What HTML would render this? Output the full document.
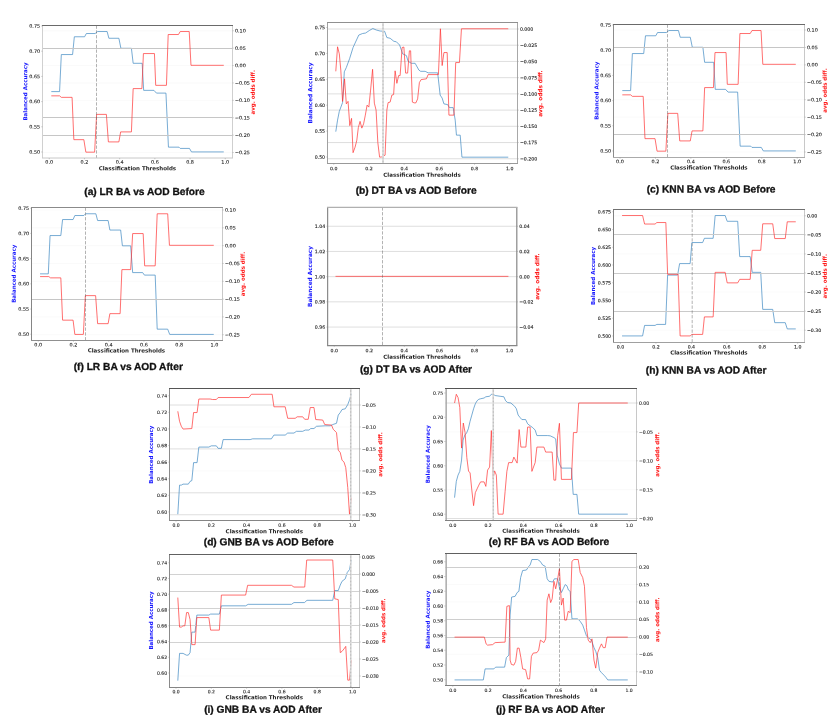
<!DOCTYPE html>
<html lang="en"><head><meta charset="utf-8"><title>BA vs AOD</title>
<style>html,body{margin:0;padding:0;background:#fff}svg{display:block}.t{font-family:"DejaVu Sans","Liberation Sans",sans-serif;font-size:4.7px;fill:#222;stroke:#222;stroke-width:0.1px}.l{font-family:"DejaVu Sans","Liberation Sans",sans-serif;font-weight:bold;font-size:5.5px}.c{font-family:"Liberation Sans",sans-serif;font-weight:bold;font-size:10.2px;fill:#111;stroke:#111;stroke-width:0.3px}text{text-rendering:geometricPrecision}</style></head><body>
<svg width="831" height="720" viewBox="0 0 831 720">
<rect width="831" height="720" fill="#fff"/>
<g id="chart-a">
<line x1="42.5" x2="232.5" y1="30.75" y2="30.75" stroke="#f4f4f4" stroke-width="0.5"/>
<line x1="42.5" x2="232.5" y1="65.55" y2="65.55" stroke="#f4f4f4" stroke-width="0.5"/>
<line x1="42.5" x2="232.5" y1="82.95" y2="82.95" stroke="#f4f4f4" stroke-width="0.5"/>
<line x1="42.5" x2="232.5" y1="100.35" y2="100.35" stroke="#f4f4f4" stroke-width="0.5"/>
<line x1="42.5" x2="232.5" y1="152.55" y2="152.55" stroke="#f4f4f4" stroke-width="0.5"/>
<polyline points="51.31,91.60 59.57,91.60 61.32,54.55 72.59,54.55 74.34,36.78 84.60,36.78 86.35,33.53 95.11,33.53 97.62,31.53 107.13,31.53 108.88,38.28 118.89,38.28 120.90,48.30 131.41,48.30 133.16,63.31 142.17,63.31 143.67,90.35 153.94,90.35 156.44,93.10 165.95,93.10 168.45,147.16 178.97,147.16 180.22,148.42 189.48,148.42 191.48,151.92 223.77,151.92" fill="none" stroke="#3d88c2" stroke-width="0.7" stroke-linejoin="round"/>
<line x1="42.5" x2="232.5" y1="48.5" y2="48.5" stroke="#c6c6c6" stroke-width="1"/>
<line x1="42.5" x2="232.5" y1="117.5" y2="117.5" stroke="#c6c6c6" stroke-width="1"/>
<line x1="42.5" x2="232.5" y1="135.5" y2="135.5" stroke="#c6c6c6" stroke-width="1"/>
<polyline points="51.31,95.85 59.57,95.85 61.32,97.35 72.09,97.35 73.84,139.66 83.85,139.66 85.85,152.17 94.61,152.17 96.62,114.38 106.38,114.38 108.38,141.91 118.89,141.91 120.65,131.90 131.41,131.90 133.16,88.59 141.92,88.59 143.42,53.55 154.44,53.55 155.69,85.34 166.45,85.34 168.20,34.53 178.46,34.53 180.22,31.53 189.23,31.53 190.98,65.32 223.77,65.32" fill="none" stroke="#ff3232" stroke-width="0.7" stroke-linejoin="round"/>
<line x1="96.5" x2="96.5" y1="25.5" y2="158.0" stroke="#555" stroke-width="0.45" stroke-dasharray="3.3 1.5"/>
<line x1="42.5" x2="42.5" y1="25.5" y2="158.0" stroke="#d0d0d0" stroke-width="1"/>
<line x1="232.5" x2="232.5" y1="25.5" y2="158.0" stroke="#cfcfcf" stroke-width="1"/>
<line x1="42.0" x2="233.0" y1="158.0" y2="158.0" stroke="#c8c8c8" stroke-width="1"/>
<line x1="42.0" x2="233.0" y1="25.5" y2="25.5" stroke="#6a6a6a" stroke-width="1"/>
<line x1="49.25" x2="49.25" y1="158.0" y2="159.3" stroke="#888" stroke-width="0.4"/>
<text class="t" style="font-size:4.9px" transform="translate(49.25,163.70) rotate(0.04)" text-anchor="middle">0.0</text>
<line x1="84.45" x2="84.45" y1="158.0" y2="159.3" stroke="#888" stroke-width="0.4"/>
<text class="t" style="font-size:4.9px" transform="translate(84.45,163.70) rotate(0.04)" text-anchor="middle">0.2</text>
<line x1="119.65" x2="119.65" y1="158.0" y2="159.3" stroke="#888" stroke-width="0.4"/>
<text class="t" style="font-size:4.9px" transform="translate(119.65,163.70) rotate(0.04)" text-anchor="middle">0.4</text>
<line x1="154.85" x2="154.85" y1="158.0" y2="159.3" stroke="#888" stroke-width="0.4"/>
<text class="t" style="font-size:4.9px" transform="translate(154.85,163.70) rotate(0.04)" text-anchor="middle">0.6</text>
<line x1="190.05" x2="190.05" y1="158.0" y2="159.3" stroke="#888" stroke-width="0.4"/>
<text class="t" style="font-size:4.9px" transform="translate(190.05,163.70) rotate(0.04)" text-anchor="middle">0.8</text>
<line x1="225.25" x2="225.25" y1="158.0" y2="159.3" stroke="#888" stroke-width="0.4"/>
<text class="t" style="font-size:4.9px" transform="translate(225.25,163.70) rotate(0.04)" text-anchor="middle">1.0</text>
<line x1="41.2" x2="42.5" y1="26.00" y2="26.00" stroke="#888" stroke-width="0.4"/>
<text class="t" style="font-size:4.9px" transform="translate(40.10,27.75) rotate(0.04)" text-anchor="end">0.75</text>
<line x1="41.2" x2="42.5" y1="51.20" y2="51.20" stroke="#888" stroke-width="0.4"/>
<text class="t" style="font-size:4.9px" transform="translate(40.10,52.95) rotate(0.04)" text-anchor="end">0.70</text>
<line x1="41.2" x2="42.5" y1="76.40" y2="76.40" stroke="#888" stroke-width="0.4"/>
<text class="t" style="font-size:4.9px" transform="translate(40.10,78.15) rotate(0.04)" text-anchor="end">0.65</text>
<line x1="41.2" x2="42.5" y1="101.60" y2="101.60" stroke="#888" stroke-width="0.4"/>
<text class="t" style="font-size:4.9px" transform="translate(40.10,103.35) rotate(0.04)" text-anchor="end">0.60</text>
<line x1="41.2" x2="42.5" y1="126.80" y2="126.80" stroke="#888" stroke-width="0.4"/>
<text class="t" style="font-size:4.9px" transform="translate(40.10,128.55) rotate(0.04)" text-anchor="end">0.55</text>
<line x1="41.2" x2="42.5" y1="152.00" y2="152.00" stroke="#888" stroke-width="0.4"/>
<text class="t" style="font-size:4.9px" transform="translate(40.10,153.75) rotate(0.04)" text-anchor="end">0.50</text>
<line x1="232.5" x2="233.8" y1="30.75" y2="30.75" stroke="#888" stroke-width="0.4"/>
<text class="t" style="font-size:4.9px" transform="translate(234.90,32.50) rotate(0.04)">0.10</text>
<line x1="232.5" x2="233.8" y1="48.15" y2="48.15" stroke="#888" stroke-width="0.4"/>
<text class="t" style="font-size:4.9px" transform="translate(234.90,49.90) rotate(0.04)">0.05</text>
<line x1="232.5" x2="233.8" y1="65.55" y2="65.55" stroke="#888" stroke-width="0.4"/>
<text class="t" style="font-size:4.9px" transform="translate(234.90,67.30) rotate(0.04)">0.00</text>
<line x1="232.5" x2="233.8" y1="82.95" y2="82.95" stroke="#888" stroke-width="0.4"/>
<text class="t" style="font-size:4.9px" transform="translate(234.90,84.70) rotate(0.04)">−0.05</text>
<line x1="232.5" x2="233.8" y1="100.35" y2="100.35" stroke="#888" stroke-width="0.4"/>
<text class="t" style="font-size:4.9px" transform="translate(234.90,102.10) rotate(0.04)">−0.10</text>
<line x1="232.5" x2="233.8" y1="117.75" y2="117.75" stroke="#888" stroke-width="0.4"/>
<text class="t" style="font-size:4.9px" transform="translate(234.90,119.50) rotate(0.04)">−0.15</text>
<line x1="232.5" x2="233.8" y1="135.15" y2="135.15" stroke="#888" stroke-width="0.4"/>
<text class="t" style="font-size:4.9px" transform="translate(234.90,136.90) rotate(0.04)">−0.20</text>
<line x1="232.5" x2="233.8" y1="152.55" y2="152.55" stroke="#888" stroke-width="0.4"/>
<text class="t" style="font-size:4.9px" transform="translate(234.90,154.30) rotate(0.04)">−0.25</text>
<text class="l" transform="translate(137.4,170.25) rotate(0.04)" text-anchor="middle" fill="#222">Classification Thresholds</text>
<text class="l" transform="translate(27.3,91.5) rotate(-90.04)" text-anchor="middle" fill="#1616ff">Balanced Accuracy</text>
<text class="l" transform="translate(254.8,92.25) rotate(-90.04)" text-anchor="middle" fill="#ff1a1a">avg. odds diff.</text>
<text class="c" transform="translate(144.5,195) rotate(0.04)" text-anchor="middle">(a) LR BA vs AOD Before</text>
</g>
<g id="chart-c">
<line x1="613.5" x2="804.5" y1="30.00" y2="30.00" stroke="#f4f4f4" stroke-width="0.5"/>
<line x1="613.5" x2="804.5" y1="64.86" y2="64.86" stroke="#f4f4f4" stroke-width="0.5"/>
<line x1="613.5" x2="804.5" y1="82.29" y2="82.29" stroke="#f4f4f4" stroke-width="0.5"/>
<line x1="613.5" x2="804.5" y1="99.72" y2="99.72" stroke="#f4f4f4" stroke-width="0.5"/>
<line x1="613.5" x2="804.5" y1="117.15" y2="117.15" stroke="#f4f4f4" stroke-width="0.5"/>
<line x1="613.5" x2="804.5" y1="152.01" y2="152.01" stroke="#f4f4f4" stroke-width="0.5"/>
<polyline points="622.30,90.60 630.61,90.60 632.37,53.55 643.71,53.55 645.47,35.78 655.79,35.78 657.56,32.53 666.37,32.53 668.89,30.52 678.45,30.52 680.22,37.28 690.29,37.28 692.30,47.29 702.88,47.29 704.64,62.31 713.71,62.31 715.22,89.35 725.54,89.35 728.06,92.10 737.63,92.10 740.15,146.16 750.72,146.16 751.98,147.42 761.30,147.42 763.31,150.92 795.79,150.92" fill="none" stroke="#3d88c2" stroke-width="0.7" stroke-linejoin="round"/>
<line x1="613.5" x2="804.5" y1="47.5" y2="47.5" stroke="#c6c6c6" stroke-width="1"/>
<line x1="613.5" x2="804.5" y1="134.5" y2="134.5" stroke="#c6c6c6" stroke-width="1"/>
<polyline points="622.30,94.85 630.61,94.85 632.37,96.35 643.20,96.35 644.97,138.65 655.04,138.65 657.05,151.17 665.86,151.17 667.88,113.37 677.70,113.37 679.71,140.91 690.29,140.91 692.05,130.90 702.88,130.90 704.64,87.59 713.46,87.59 714.97,52.55 726.05,52.55 727.30,84.34 738.13,84.34 739.89,33.53 750.22,33.53 751.98,30.52 761.05,30.52 762.81,64.32 795.79,64.32" fill="none" stroke="#ff3232" stroke-width="0.7" stroke-linejoin="round"/>
<line x1="667.5" x2="667.5" y1="24.5" y2="157.5" stroke="#555" stroke-width="0.45" stroke-dasharray="3.3 1.5"/>
<line x1="613.5" x2="613.5" y1="24.5" y2="157.5" stroke="#8c8c8c" stroke-width="1"/>
<line x1="804.5" x2="804.5" y1="24.5" y2="157.5" stroke="#c8c8c8" stroke-width="1"/>
<line x1="613.0" x2="805.0" y1="157.5" y2="157.5" stroke="#aaa" stroke-width="1"/>
<line x1="613.0" x2="805.0" y1="24.5" y2="24.5" stroke="#6a6a6a" stroke-width="1"/>
<line x1="620.00" x2="620.00" y1="157.5" y2="158.8" stroke="#888" stroke-width="0.4"/>
<text class="t" style="font-size:4.9px" transform="translate(620.00,163.20) rotate(0.04)" text-anchor="middle">0.0</text>
<line x1="655.44" x2="655.44" y1="157.5" y2="158.8" stroke="#888" stroke-width="0.4"/>
<text class="t" style="font-size:4.9px" transform="translate(655.44,163.20) rotate(0.04)" text-anchor="middle">0.2</text>
<line x1="690.88" x2="690.88" y1="157.5" y2="158.8" stroke="#888" stroke-width="0.4"/>
<text class="t" style="font-size:4.9px" transform="translate(690.88,163.20) rotate(0.04)" text-anchor="middle">0.4</text>
<line x1="726.32" x2="726.32" y1="157.5" y2="158.8" stroke="#888" stroke-width="0.4"/>
<text class="t" style="font-size:4.9px" transform="translate(726.32,163.20) rotate(0.04)" text-anchor="middle">0.6</text>
<line x1="761.76" x2="761.76" y1="157.5" y2="158.8" stroke="#888" stroke-width="0.4"/>
<text class="t" style="font-size:4.9px" transform="translate(761.76,163.20) rotate(0.04)" text-anchor="middle">0.8</text>
<line x1="797.20" x2="797.20" y1="157.5" y2="158.8" stroke="#888" stroke-width="0.4"/>
<text class="t" style="font-size:4.9px" transform="translate(797.20,163.20) rotate(0.04)" text-anchor="middle">1.0</text>
<line x1="612.2" x2="613.5" y1="25.00" y2="25.00" stroke="#888" stroke-width="0.4"/>
<text class="t" style="font-size:4.9px" transform="translate(611.10,26.75) rotate(0.04)" text-anchor="end">0.75</text>
<line x1="612.2" x2="613.5" y1="50.20" y2="50.20" stroke="#888" stroke-width="0.4"/>
<text class="t" style="font-size:4.9px" transform="translate(611.10,51.95) rotate(0.04)" text-anchor="end">0.70</text>
<line x1="612.2" x2="613.5" y1="75.40" y2="75.40" stroke="#888" stroke-width="0.4"/>
<text class="t" style="font-size:4.9px" transform="translate(611.10,77.15) rotate(0.04)" text-anchor="end">0.65</text>
<line x1="612.2" x2="613.5" y1="100.60" y2="100.60" stroke="#888" stroke-width="0.4"/>
<text class="t" style="font-size:4.9px" transform="translate(611.10,102.35) rotate(0.04)" text-anchor="end">0.60</text>
<line x1="612.2" x2="613.5" y1="125.80" y2="125.80" stroke="#888" stroke-width="0.4"/>
<text class="t" style="font-size:4.9px" transform="translate(611.10,127.55) rotate(0.04)" text-anchor="end">0.55</text>
<line x1="612.2" x2="613.5" y1="151.00" y2="151.00" stroke="#888" stroke-width="0.4"/>
<text class="t" style="font-size:4.9px" transform="translate(611.10,152.75) rotate(0.04)" text-anchor="end">0.50</text>
<line x1="804.5" x2="805.8" y1="30.00" y2="30.00" stroke="#888" stroke-width="0.4"/>
<text class="t" style="font-size:4.9px" transform="translate(806.90,31.75) rotate(0.04)">0.10</text>
<line x1="804.5" x2="805.8" y1="47.43" y2="47.43" stroke="#888" stroke-width="0.4"/>
<text class="t" style="font-size:4.9px" transform="translate(806.90,49.18) rotate(0.04)">0.05</text>
<line x1="804.5" x2="805.8" y1="64.86" y2="64.86" stroke="#888" stroke-width="0.4"/>
<text class="t" style="font-size:4.9px" transform="translate(806.90,66.61) rotate(0.04)">0.00</text>
<line x1="804.5" x2="805.8" y1="82.29" y2="82.29" stroke="#888" stroke-width="0.4"/>
<text class="t" style="font-size:4.9px" transform="translate(806.90,84.04) rotate(0.04)">−0.05</text>
<line x1="804.5" x2="805.8" y1="99.72" y2="99.72" stroke="#888" stroke-width="0.4"/>
<text class="t" style="font-size:4.9px" transform="translate(806.90,101.47) rotate(0.04)">−0.10</text>
<line x1="804.5" x2="805.8" y1="117.15" y2="117.15" stroke="#888" stroke-width="0.4"/>
<text class="t" style="font-size:4.9px" transform="translate(806.90,118.90) rotate(0.04)">−0.15</text>
<line x1="804.5" x2="805.8" y1="134.58" y2="134.58" stroke="#888" stroke-width="0.4"/>
<text class="t" style="font-size:4.9px" transform="translate(806.90,136.33) rotate(0.04)">−0.20</text>
<line x1="804.5" x2="805.8" y1="152.01" y2="152.01" stroke="#888" stroke-width="0.4"/>
<text class="t" style="font-size:4.9px" transform="translate(806.90,153.76) rotate(0.04)">−0.25</text>
<text class="l" transform="translate(708.9,169.5) rotate(0.04)" text-anchor="middle" fill="#222">Classification Thresholds</text>
<text class="l" transform="translate(598.6,90.75) rotate(-90.04)" text-anchor="middle" fill="#1616ff">Balanced Accuracy</text>
<text class="l" transform="translate(826.8,90.5) rotate(-90.04)" text-anchor="middle" fill="#ff1a1a">avg. odds diff.</text>
<text class="c" transform="translate(711.1,192.5) rotate(0.04)" text-anchor="middle">(c) KNN BA vs AOD Before</text>
</g>
<g id="chart-b">
<line x1="327.5" x2="517.5" y1="29.00" y2="29.00" stroke="#d6d6d6" stroke-width="0.8"/>
<line x1="327.5" x2="517.5" y1="45.22" y2="45.22" stroke="#d6d6d6" stroke-width="0.8"/>
<line x1="327.5" x2="517.5" y1="61.44" y2="61.44" stroke="#d6d6d6" stroke-width="0.8"/>
<line x1="327.5" x2="517.5" y1="77.66" y2="77.66" stroke="#d6d6d6" stroke-width="0.8"/>
<line x1="327.5" x2="517.5" y1="93.88" y2="93.88" stroke="#d6d6d6" stroke-width="0.8"/>
<line x1="327.5" x2="517.5" y1="110.10" y2="110.10" stroke="#d6d6d6" stroke-width="0.8"/>
<line x1="327.5" x2="517.5" y1="126.32" y2="126.32" stroke="#d6d6d6" stroke-width="0.8"/>
<line x1="327.5" x2="517.5" y1="142.54" y2="142.54" stroke="#d6d6d6" stroke-width="0.8"/>
<line x1="327.5" x2="517.5" y1="158.76" y2="158.76" stroke="#d6d6d6" stroke-width="0.8"/>
<polyline points="335.79,131.65 337.55,120.13 339.30,111.37 342.55,102.61 344.30,71.82 346.31,67.57 349.56,58.81 353.06,47.55 355.57,42.04 358.82,35.03 362.58,33.53 365.58,33.03 369.33,30.52 372.84,28.52 376.34,30.02 380.10,31.03 384.60,31.28 386.85,37.53 390.11,38.28 393.86,41.29 396.37,41.79 399.62,45.04 402.62,53.80 406.38,55.55 408.13,61.31 411.38,63.31 415.14,63.31 418.89,70.07 420.65,71.32 425.15,71.32 428.15,72.83 437.67,72.83 440.17,95.10 442.17,98.11 443.92,103.86 447.68,104.61 449.43,107.62 453.18,107.62 455.19,120.13 456.44,135.15 460.19,135.15 461.94,157.18 508.25,157.18" fill="none" stroke="#3d88c2" stroke-width="0.7" stroke-linejoin="round"/>
<polyline points="335.79,71.32 337.55,46.79 339.30,53.80 340.80,70.07 342.55,101.36 344.55,78.83 346.31,103.86 348.06,101.36 349.81,125.64 351.56,118.38 353.06,152.67 355.07,147.16 356.82,140.16 358.32,127.64 360.07,121.38 361.82,128.14 363.58,123.89 365.33,115.13 367.08,105.11 368.83,107.12 370.58,90.10 372.59,69.32 374.34,103.11 376.09,110.12 377.84,142.66 379.60,157.18 381.60,156.93 385.10,155.17 386.85,110.12 388.11,102.61 390.11,102.11 391.86,95.10 393.61,94.60 395.11,70.82 396.87,83.34 398.62,75.58 400.12,75.58 402.12,47.55 403.87,47.04 405.63,73.08 407.63,73.08 409.38,50.80 410.63,50.80 412.39,102.11 414.14,102.86 415.89,102.86 417.64,98.86 419.39,82.59 421.15,79.58 426.40,78.83 428.15,74.58 438.42,74.58 440.42,28.77 442.17,65.57 443.92,52.55 447.18,52.55 448.93,115.13 453.94,115.13 455.69,62.56 459.44,62.56 461.44,28.77 508.25,28.77" fill="none" stroke="#ff3232" stroke-width="0.7" stroke-linejoin="round"/>
<line x1="383.0" x2="383.0" y1="22.5" y2="163.5" stroke="#f0f0f0" stroke-width="1.8"/>
<line x1="383.0" x2="383.0" y1="22.5" y2="163.5" stroke="#8e8e8e" stroke-width="0.9" stroke-dasharray="0.8 0.6"/>
<line x1="327.5" x2="327.5" y1="22.5" y2="163.5" stroke="#a0a0a0" stroke-width="1"/>
<line x1="517.5" x2="517.5" y1="22.5" y2="163.5" stroke="#a8a8a8" stroke-width="1"/>
<line x1="327.0" x2="518.0" y1="163.5" y2="163.5" stroke="#999" stroke-width="1"/>
<line x1="327.0" x2="518.0" y1="22.5" y2="22.5" stroke="#909090" stroke-width="1"/>
<line x1="333.75" x2="333.75" y1="163.5" y2="164.8" stroke="#888" stroke-width="0.4"/>
<text class="t" transform="translate(333.75,170.20) rotate(0.04)" text-anchor="middle">0.0</text>
<line x1="368.95" x2="368.95" y1="163.5" y2="164.8" stroke="#888" stroke-width="0.4"/>
<text class="t" transform="translate(368.95,170.20) rotate(0.04)" text-anchor="middle">0.2</text>
<line x1="404.15" x2="404.15" y1="163.5" y2="164.8" stroke="#888" stroke-width="0.4"/>
<text class="t" transform="translate(404.15,170.20) rotate(0.04)" text-anchor="middle">0.4</text>
<line x1="439.35" x2="439.35" y1="163.5" y2="164.8" stroke="#888" stroke-width="0.4"/>
<text class="t" transform="translate(439.35,170.20) rotate(0.04)" text-anchor="middle">0.6</text>
<line x1="474.55" x2="474.55" y1="163.5" y2="164.8" stroke="#888" stroke-width="0.4"/>
<text class="t" transform="translate(474.55,170.20) rotate(0.04)" text-anchor="middle">0.8</text>
<line x1="509.75" x2="509.75" y1="163.5" y2="164.8" stroke="#888" stroke-width="0.4"/>
<text class="t" transform="translate(509.75,170.20) rotate(0.04)" text-anchor="middle">1.0</text>
<line x1="326.2" x2="327.5" y1="27.50" y2="27.50" stroke="#888" stroke-width="0.4"/>
<text class="t" transform="translate(325.10,29.25) rotate(0.04)" text-anchor="end">0.75</text>
<line x1="326.2" x2="327.5" y1="53.40" y2="53.40" stroke="#888" stroke-width="0.4"/>
<text class="t" transform="translate(325.10,55.15) rotate(0.04)" text-anchor="end">0.70</text>
<line x1="326.2" x2="327.5" y1="79.30" y2="79.30" stroke="#888" stroke-width="0.4"/>
<text class="t" transform="translate(325.10,81.05) rotate(0.04)" text-anchor="end">0.65</text>
<line x1="326.2" x2="327.5" y1="105.20" y2="105.20" stroke="#888" stroke-width="0.4"/>
<text class="t" transform="translate(325.10,106.95) rotate(0.04)" text-anchor="end">0.60</text>
<line x1="326.2" x2="327.5" y1="131.10" y2="131.10" stroke="#888" stroke-width="0.4"/>
<text class="t" transform="translate(325.10,132.85) rotate(0.04)" text-anchor="end">0.55</text>
<line x1="326.2" x2="327.5" y1="157.00" y2="157.00" stroke="#888" stroke-width="0.4"/>
<text class="t" transform="translate(325.10,158.75) rotate(0.04)" text-anchor="end">0.50</text>
<line x1="517.5" x2="518.8" y1="29.00" y2="29.00" stroke="#888" stroke-width="0.4"/>
<text class="t" transform="translate(519.90,30.75) rotate(0.04)">0.000</text>
<line x1="517.5" x2="518.8" y1="45.22" y2="45.22" stroke="#888" stroke-width="0.4"/>
<text class="t" transform="translate(519.90,46.97) rotate(0.04)">−0.025</text>
<line x1="517.5" x2="518.8" y1="61.44" y2="61.44" stroke="#888" stroke-width="0.4"/>
<text class="t" transform="translate(519.90,63.19) rotate(0.04)">−0.050</text>
<line x1="517.5" x2="518.8" y1="77.66" y2="77.66" stroke="#888" stroke-width="0.4"/>
<text class="t" transform="translate(519.90,79.41) rotate(0.04)">−0.075</text>
<line x1="517.5" x2="518.8" y1="93.88" y2="93.88" stroke="#888" stroke-width="0.4"/>
<text class="t" transform="translate(519.90,95.63) rotate(0.04)">−0.100</text>
<line x1="517.5" x2="518.8" y1="110.10" y2="110.10" stroke="#888" stroke-width="0.4"/>
<text class="t" transform="translate(519.90,111.85) rotate(0.04)">−0.125</text>
<line x1="517.5" x2="518.8" y1="126.32" y2="126.32" stroke="#888" stroke-width="0.4"/>
<text class="t" transform="translate(519.90,128.07) rotate(0.04)">−0.150</text>
<line x1="517.5" x2="518.8" y1="142.54" y2="142.54" stroke="#888" stroke-width="0.4"/>
<text class="t" transform="translate(519.90,144.29) rotate(0.04)">−0.175</text>
<line x1="517.5" x2="518.8" y1="158.76" y2="158.76" stroke="#888" stroke-width="0.4"/>
<text class="t" transform="translate(519.90,160.51) rotate(0.04)">−0.200</text>
<text class="l" transform="translate(422,176.75) rotate(0.04)" text-anchor="middle" fill="#222">Classification Thresholds</text>
<text class="l" style="font-size:5.78px" transform="translate(312.2,93) rotate(-90.04)" text-anchor="middle" fill="#1616ff">Balanced Accuracy</text>
<text class="l" style="font-size:5.78px" transform="translate(542.3,93.5) rotate(-90.04)" text-anchor="middle" fill="#ff1a1a">avg. odds diff.</text>
<text class="c" transform="translate(416.1,193.7) rotate(0.04)" text-anchor="middle">(b) DT BA vs AOD Before</text>
</g>
<g id="chart-f">
<line x1="31.5" x2="222.5" y1="210.00" y2="210.00" stroke="#f4f4f4" stroke-width="0.5"/>
<line x1="31.5" x2="222.5" y1="227.82" y2="227.82" stroke="#f4f4f4" stroke-width="0.5"/>
<line x1="31.5" x2="222.5" y1="245.64" y2="245.64" stroke="#f4f4f4" stroke-width="0.5"/>
<line x1="31.5" x2="222.5" y1="263.46" y2="263.46" stroke="#f4f4f4" stroke-width="0.5"/>
<line x1="31.5" x2="222.5" y1="281.28" y2="281.28" stroke="#f4f4f4" stroke-width="0.5"/>
<line x1="31.5" x2="222.5" y1="316.92" y2="316.92" stroke="#f4f4f4" stroke-width="0.5"/>
<line x1="31.5" x2="222.5" y1="334.74" y2="334.74" stroke="#f4f4f4" stroke-width="0.5"/>
<polyline points="40.05,273.85 48.31,273.85 50.06,235.55 60.82,235.55 62.58,219.54 73.09,219.54 74.84,215.53 83.85,215.53 85.60,213.78 95.87,213.78 97.62,220.54 108.13,220.54 109.88,230.05 120.65,230.05 122.40,245.82 130.66,245.82 132.66,272.60 142.67,272.60 144.42,275.10 155.19,275.10 157.19,329.17 167.70,329.17 169.70,334.42 213.76,334.42" fill="none" stroke="#3d88c2" stroke-width="0.7" stroke-linejoin="round"/>
<line x1="31.5" x2="222.5" y1="299.5" y2="299.5" stroke="#c6c6c6" stroke-width="1"/>
<polyline points="40.05,276.60 48.81,276.60 50.56,277.86 60.82,277.86 62.58,320.16 73.09,320.16 74.84,334.42 83.35,334.42 85.35,295.63 95.61,295.63 97.62,323.66 108.13,323.66 109.88,313.65 120.14,313.65 121.90,269.60 130.66,269.60 132.66,233.55 143.17,233.55 144.67,265.84 155.19,265.84 157.19,213.78 167.70,213.78 169.45,245.32 213.76,245.32" fill="none" stroke="#ff3232" stroke-width="0.7" stroke-linejoin="round"/>
<line x1="85.5" x2="85.5" y1="207.5" y2="340.5" stroke="#555" stroke-width="0.45" stroke-dasharray="3.3 1.5"/>
<line x1="31.5" x2="31.5" y1="207.5" y2="340.5" stroke="#858585" stroke-width="1"/>
<line x1="222.5" x2="222.5" y1="207.5" y2="340.5" stroke="#c8c8c8" stroke-width="1"/>
<line x1="31.0" x2="223.0" y1="340.5" y2="340.5" stroke="#909090" stroke-width="1"/>
<line x1="31.0" x2="223.0" y1="207.5" y2="207.5" stroke="#8a8a8a" stroke-width="1"/>
<line x1="38.25" x2="38.25" y1="340.5" y2="341.8" stroke="#888" stroke-width="0.4"/>
<text class="t" style="font-size:4.9px" transform="translate(38.25,346.50) rotate(0.04)" text-anchor="middle">0.0</text>
<line x1="73.49" x2="73.49" y1="340.5" y2="341.8" stroke="#888" stroke-width="0.4"/>
<text class="t" style="font-size:4.9px" transform="translate(73.49,346.50) rotate(0.04)" text-anchor="middle">0.2</text>
<line x1="108.73" x2="108.73" y1="340.5" y2="341.8" stroke="#888" stroke-width="0.4"/>
<text class="t" style="font-size:4.9px" transform="translate(108.73,346.50) rotate(0.04)" text-anchor="middle">0.4</text>
<line x1="143.97" x2="143.97" y1="340.5" y2="341.8" stroke="#888" stroke-width="0.4"/>
<text class="t" style="font-size:4.9px" transform="translate(143.97,346.50) rotate(0.04)" text-anchor="middle">0.6</text>
<line x1="179.21" x2="179.21" y1="340.5" y2="341.8" stroke="#888" stroke-width="0.4"/>
<text class="t" style="font-size:4.9px" transform="translate(179.21,346.50) rotate(0.04)" text-anchor="middle">0.8</text>
<line x1="214.45" x2="214.45" y1="340.5" y2="341.8" stroke="#888" stroke-width="0.4"/>
<text class="t" style="font-size:4.9px" transform="translate(214.45,346.50) rotate(0.04)" text-anchor="middle">1.0</text>
<line x1="30.2" x2="31.5" y1="208.25" y2="208.25" stroke="#888" stroke-width="0.4"/>
<text class="t" style="font-size:4.9px" transform="translate(29.10,210.00) rotate(0.04)" text-anchor="end">0.75</text>
<line x1="30.2" x2="31.5" y1="233.45" y2="233.45" stroke="#888" stroke-width="0.4"/>
<text class="t" style="font-size:4.9px" transform="translate(29.10,235.20) rotate(0.04)" text-anchor="end">0.70</text>
<line x1="30.2" x2="31.5" y1="258.65" y2="258.65" stroke="#888" stroke-width="0.4"/>
<text class="t" style="font-size:4.9px" transform="translate(29.10,260.40) rotate(0.04)" text-anchor="end">0.65</text>
<line x1="30.2" x2="31.5" y1="283.85" y2="283.85" stroke="#888" stroke-width="0.4"/>
<text class="t" style="font-size:4.9px" transform="translate(29.10,285.60) rotate(0.04)" text-anchor="end">0.60</text>
<line x1="30.2" x2="31.5" y1="309.05" y2="309.05" stroke="#888" stroke-width="0.4"/>
<text class="t" style="font-size:4.9px" transform="translate(29.10,310.80) rotate(0.04)" text-anchor="end">0.55</text>
<line x1="30.2" x2="31.5" y1="334.25" y2="334.25" stroke="#888" stroke-width="0.4"/>
<text class="t" style="font-size:4.9px" transform="translate(29.10,336.00) rotate(0.04)" text-anchor="end">0.50</text>
<line x1="222.5" x2="223.8" y1="210.00" y2="210.00" stroke="#888" stroke-width="0.4"/>
<text class="t" style="font-size:4.9px" transform="translate(224.90,211.75) rotate(0.04)">0.10</text>
<line x1="222.5" x2="223.8" y1="227.82" y2="227.82" stroke="#888" stroke-width="0.4"/>
<text class="t" style="font-size:4.9px" transform="translate(224.90,229.57) rotate(0.04)">0.05</text>
<line x1="222.5" x2="223.8" y1="245.64" y2="245.64" stroke="#888" stroke-width="0.4"/>
<text class="t" style="font-size:4.9px" transform="translate(224.90,247.39) rotate(0.04)">0.00</text>
<line x1="222.5" x2="223.8" y1="263.46" y2="263.46" stroke="#888" stroke-width="0.4"/>
<text class="t" style="font-size:4.9px" transform="translate(224.90,265.21) rotate(0.04)">−0.05</text>
<line x1="222.5" x2="223.8" y1="281.28" y2="281.28" stroke="#888" stroke-width="0.4"/>
<text class="t" style="font-size:4.9px" transform="translate(224.90,283.03) rotate(0.04)">−0.10</text>
<line x1="222.5" x2="223.8" y1="299.10" y2="299.10" stroke="#888" stroke-width="0.4"/>
<text class="t" style="font-size:4.9px" transform="translate(224.90,300.85) rotate(0.04)">−0.15</text>
<line x1="222.5" x2="223.8" y1="316.92" y2="316.92" stroke="#888" stroke-width="0.4"/>
<text class="t" style="font-size:4.9px" transform="translate(224.90,318.67) rotate(0.04)">−0.20</text>
<line x1="222.5" x2="223.8" y1="334.74" y2="334.74" stroke="#888" stroke-width="0.4"/>
<text class="t" style="font-size:4.9px" transform="translate(224.90,336.49) rotate(0.04)">−0.25</text>
<text class="l" transform="translate(126.4,352.4) rotate(0.04)" text-anchor="middle" fill="#222">Classification Thresholds</text>
<text class="l" transform="translate(15.7,273.75) rotate(-90.04)" text-anchor="middle" fill="#1616ff">Balanced Accuracy</text>
<text class="l" transform="translate(244.8,274) rotate(-90.04)" text-anchor="middle" fill="#ff1a1a">avg. odds diff.</text>
<text class="c" transform="translate(128.25,370) rotate(0.04)" text-anchor="middle">(f) LR BA vs AOD After</text>
</g>
<g id="chart-g">
<line x1="327.6" x2="516.8" y1="226.25" y2="226.25" stroke="#d6d6d6" stroke-width="0.8"/>
<line x1="327.6" x2="516.8" y1="251.45" y2="251.45" stroke="#d6d6d6" stroke-width="0.8"/>
<line x1="327.6" x2="516.8" y1="276.65" y2="276.65" stroke="#d6d6d6" stroke-width="0.8"/>
<line x1="327.6" x2="516.8" y1="301.85" y2="301.85" stroke="#d6d6d6" stroke-width="0.8"/>
<line x1="327.6" x2="516.8" y1="327.05" y2="327.05" stroke="#d6d6d6" stroke-width="0.8"/>
<polyline points="335.50,276.35 508.40,276.35" fill="none" stroke="#ff3232" stroke-width="0.7" stroke-linejoin="round"/>
<line x1="382.5" x2="382.5" y1="207.3" y2="345.6" stroke="#555" stroke-width="0.45" stroke-dasharray="3.3 1.5"/>
<line x1="327.6" x2="327.6" y1="207.3" y2="345.6" stroke="#8c8c8c" stroke-width="1.25"/>
<line x1="516.8" x2="516.8" y1="207.3" y2="345.6" stroke="#8c8c8c" stroke-width="1.25"/>
<line x1="326.975" x2="517.425" y1="345.6" y2="345.6" stroke="#868686" stroke-width="1.25"/>
<line x1="326.975" x2="517.425" y1="207.3" y2="207.3" stroke="#b0b0b0" stroke-width="1.25"/>
<line x1="334.25" x2="334.25" y1="345.6" y2="346.90000000000003" stroke="#888" stroke-width="0.4"/>
<text class="t" transform="translate(334.25,352.30) rotate(0.04)" text-anchor="middle">0.0</text>
<line x1="369.29" x2="369.29" y1="345.6" y2="346.90000000000003" stroke="#888" stroke-width="0.4"/>
<text class="t" transform="translate(369.29,352.30) rotate(0.04)" text-anchor="middle">0.2</text>
<line x1="404.33" x2="404.33" y1="345.6" y2="346.90000000000003" stroke="#888" stroke-width="0.4"/>
<text class="t" transform="translate(404.33,352.30) rotate(0.04)" text-anchor="middle">0.4</text>
<line x1="439.37" x2="439.37" y1="345.6" y2="346.90000000000003" stroke="#888" stroke-width="0.4"/>
<text class="t" transform="translate(439.37,352.30) rotate(0.04)" text-anchor="middle">0.6</text>
<line x1="474.41" x2="474.41" y1="345.6" y2="346.90000000000003" stroke="#888" stroke-width="0.4"/>
<text class="t" transform="translate(474.41,352.30) rotate(0.04)" text-anchor="middle">0.8</text>
<line x1="509.45" x2="509.45" y1="345.6" y2="346.90000000000003" stroke="#888" stroke-width="0.4"/>
<text class="t" transform="translate(509.45,352.30) rotate(0.04)" text-anchor="middle">1.0</text>
<line x1="326.3" x2="327.6" y1="226.25" y2="226.25" stroke="#888" stroke-width="0.4"/>
<text class="t" transform="translate(325.20,228.00) rotate(0.04)" text-anchor="end">1.04</text>
<line x1="326.3" x2="327.6" y1="251.45" y2="251.45" stroke="#888" stroke-width="0.4"/>
<text class="t" transform="translate(325.20,253.20) rotate(0.04)" text-anchor="end">1.02</text>
<line x1="326.3" x2="327.6" y1="276.65" y2="276.65" stroke="#888" stroke-width="0.4"/>
<text class="t" transform="translate(325.20,278.40) rotate(0.04)" text-anchor="end">1.00</text>
<line x1="326.3" x2="327.6" y1="301.85" y2="301.85" stroke="#888" stroke-width="0.4"/>
<text class="t" transform="translate(325.20,303.60) rotate(0.04)" text-anchor="end">0.98</text>
<line x1="326.3" x2="327.6" y1="327.05" y2="327.05" stroke="#888" stroke-width="0.4"/>
<text class="t" transform="translate(325.20,328.80) rotate(0.04)" text-anchor="end">0.96</text>
<line x1="516.8" x2="518.0999999999999" y1="226.25" y2="226.25" stroke="#888" stroke-width="0.4"/>
<text class="t" transform="translate(519.20,228.00) rotate(0.04)">0.04</text>
<line x1="516.8" x2="518.0999999999999" y1="251.45" y2="251.45" stroke="#888" stroke-width="0.4"/>
<text class="t" transform="translate(519.20,253.20) rotate(0.04)">0.02</text>
<line x1="516.8" x2="518.0999999999999" y1="276.65" y2="276.65" stroke="#888" stroke-width="0.4"/>
<text class="t" transform="translate(519.20,278.40) rotate(0.04)">0.00</text>
<line x1="516.8" x2="518.0999999999999" y1="301.85" y2="301.85" stroke="#888" stroke-width="0.4"/>
<text class="t" transform="translate(519.20,303.60) rotate(0.04)">−0.02</text>
<line x1="516.8" x2="518.0999999999999" y1="327.05" y2="327.05" stroke="#888" stroke-width="0.4"/>
<text class="t" transform="translate(519.20,328.80) rotate(0.04)">−0.04</text>
<text class="l" transform="translate(422,358.7) rotate(0.04)" text-anchor="middle" fill="#222">Classification Thresholds</text>
<text class="l" style="font-size:5.78px" transform="translate(312,276.5) rotate(-90.04)" text-anchor="middle" fill="#1616ff">Balanced Accuracy</text>
<text class="l" style="font-size:5.78px" transform="translate(539.3,276.5) rotate(-90.04)" text-anchor="middle" fill="#ff1a1a">avg. odds diff.</text>
<text class="c" transform="translate(416,372.5) rotate(0.04)" text-anchor="middle">(g) DT BA vs AOD After</text>
</g>
<g id="chart-h">
<line x1="613.5" x2="804.5" y1="215.75" y2="215.75" stroke="#f4f4f4" stroke-width="0.5"/>
<line x1="613.5" x2="804.5" y1="253.91" y2="253.91" stroke="#f4f4f4" stroke-width="0.5"/>
<line x1="613.5" x2="804.5" y1="292.07" y2="292.07" stroke="#f4f4f4" stroke-width="0.5"/>
<line x1="613.5" x2="804.5" y1="330.23" y2="330.23" stroke="#f4f4f4" stroke-width="0.5"/>
<polyline points="622.05,335.93 642.58,335.93 644.58,325.41 655.09,325.41 656.84,324.41 665.60,324.41 667.61,275.10 677.62,275.10 679.62,263.59 690.13,263.59 691.88,242.56 702.65,242.56 704.40,238.31 713.16,238.31 715.16,215.53 725.17,215.53 727.18,221.29 737.69,221.29 739.69,256.58 750.20,256.58 752.21,272.35 760.72,272.35 762.72,309.39 772.73,309.39 774.73,322.66 785.25,322.66 787.25,328.92 795.76,328.92" fill="none" stroke="#3d88c2" stroke-width="0.7" stroke-linejoin="round"/>
<line x1="613.5" x2="804.5" y1="234.5" y2="234.5" stroke="#cacaca" stroke-width="1"/>
<line x1="613.5" x2="804.5" y1="273.5" y2="273.5" stroke="#cacaca" stroke-width="1"/>
<line x1="613.5" x2="804.5" y1="311.5" y2="311.5" stroke="#cacaca" stroke-width="1"/>
<polyline points="622.05,215.53 642.58,215.53 644.58,224.04 655.09,224.04 656.84,222.54 665.85,222.54 667.61,274.35 678.12,274.35 680.12,335.93 690.13,335.93 691.88,334.42 702.65,334.42 704.40,316.90 713.16,316.90 715.16,272.35 725.17,272.35 727.18,282.86 737.69,282.86 739.69,279.36 750.20,279.36 752.21,250.32 760.72,250.32 762.72,223.79 772.73,223.79 774.73,238.56 785.25,238.56 787.25,221.79 795.76,221.79" fill="none" stroke="#ff3232" stroke-width="0.7" stroke-linejoin="round"/>
<line x1="692.2" x2="692.2" y1="209.5" y2="342.5" stroke="#555" stroke-width="0.45" stroke-dasharray="3.3 1.5"/>
<line x1="613.5" x2="613.5" y1="209.5" y2="342.5" stroke="#808080" stroke-width="1"/>
<line x1="804.5" x2="804.5" y1="209.5" y2="342.5" stroke="#c8c8c8" stroke-width="1"/>
<line x1="613.0" x2="805.0" y1="342.5" y2="342.5" stroke="#a0a0a0" stroke-width="1"/>
<line x1="613.0" x2="805.0" y1="209.5" y2="209.5" stroke="#707070" stroke-width="1"/>
<line x1="620.50" x2="620.50" y1="342.5" y2="343.8" stroke="#888" stroke-width="0.4"/>
<text class="t" transform="translate(620.50,348.50) rotate(0.04)" text-anchor="middle">0.0</text>
<line x1="655.94" x2="655.94" y1="342.5" y2="343.8" stroke="#888" stroke-width="0.4"/>
<text class="t" transform="translate(655.94,348.50) rotate(0.04)" text-anchor="middle">0.2</text>
<line x1="691.38" x2="691.38" y1="342.5" y2="343.8" stroke="#888" stroke-width="0.4"/>
<text class="t" transform="translate(691.38,348.50) rotate(0.04)" text-anchor="middle">0.4</text>
<line x1="726.82" x2="726.82" y1="342.5" y2="343.8" stroke="#888" stroke-width="0.4"/>
<text class="t" transform="translate(726.82,348.50) rotate(0.04)" text-anchor="middle">0.6</text>
<line x1="762.26" x2="762.26" y1="342.5" y2="343.8" stroke="#888" stroke-width="0.4"/>
<text class="t" transform="translate(762.26,348.50) rotate(0.04)" text-anchor="middle">0.8</text>
<line x1="797.70" x2="797.70" y1="342.5" y2="343.8" stroke="#888" stroke-width="0.4"/>
<text class="t" transform="translate(797.70,348.50) rotate(0.04)" text-anchor="middle">1.0</text>
<line x1="612.2" x2="613.5" y1="211.75" y2="211.75" stroke="#888" stroke-width="0.4"/>
<text class="t" transform="translate(611.10,213.50) rotate(0.04)" text-anchor="end">0.675</text>
<line x1="612.2" x2="613.5" y1="229.50" y2="229.50" stroke="#888" stroke-width="0.4"/>
<text class="t" transform="translate(611.10,231.25) rotate(0.04)" text-anchor="end">0.650</text>
<line x1="612.2" x2="613.5" y1="247.25" y2="247.25" stroke="#888" stroke-width="0.4"/>
<text class="t" transform="translate(611.10,249.00) rotate(0.04)" text-anchor="end">0.625</text>
<line x1="612.2" x2="613.5" y1="265.00" y2="265.00" stroke="#888" stroke-width="0.4"/>
<text class="t" transform="translate(611.10,266.75) rotate(0.04)" text-anchor="end">0.600</text>
<line x1="612.2" x2="613.5" y1="282.75" y2="282.75" stroke="#888" stroke-width="0.4"/>
<text class="t" transform="translate(611.10,284.50) rotate(0.04)" text-anchor="end">0.575</text>
<line x1="612.2" x2="613.5" y1="300.50" y2="300.50" stroke="#888" stroke-width="0.4"/>
<text class="t" transform="translate(611.10,302.25) rotate(0.04)" text-anchor="end">0.550</text>
<line x1="612.2" x2="613.5" y1="318.25" y2="318.25" stroke="#888" stroke-width="0.4"/>
<text class="t" transform="translate(611.10,320.00) rotate(0.04)" text-anchor="end">0.525</text>
<line x1="612.2" x2="613.5" y1="336.00" y2="336.00" stroke="#888" stroke-width="0.4"/>
<text class="t" transform="translate(611.10,337.75) rotate(0.04)" text-anchor="end">0.500</text>
<line x1="804.5" x2="805.8" y1="215.75" y2="215.75" stroke="#888" stroke-width="0.4"/>
<text class="t" transform="translate(806.90,217.50) rotate(0.04)">0.00</text>
<line x1="804.5" x2="805.8" y1="234.83" y2="234.83" stroke="#888" stroke-width="0.4"/>
<text class="t" transform="translate(806.90,236.58) rotate(0.04)">−0.05</text>
<line x1="804.5" x2="805.8" y1="253.91" y2="253.91" stroke="#888" stroke-width="0.4"/>
<text class="t" transform="translate(806.90,255.66) rotate(0.04)">−0.10</text>
<line x1="804.5" x2="805.8" y1="272.99" y2="272.99" stroke="#888" stroke-width="0.4"/>
<text class="t" transform="translate(806.90,274.74) rotate(0.04)">−0.15</text>
<line x1="804.5" x2="805.8" y1="292.07" y2="292.07" stroke="#888" stroke-width="0.4"/>
<text class="t" transform="translate(806.90,293.82) rotate(0.04)">−0.20</text>
<line x1="804.5" x2="805.8" y1="311.15" y2="311.15" stroke="#888" stroke-width="0.4"/>
<text class="t" transform="translate(806.90,312.90) rotate(0.04)">−0.25</text>
<line x1="804.5" x2="805.8" y1="330.23" y2="330.23" stroke="#888" stroke-width="0.4"/>
<text class="t" transform="translate(806.90,331.98) rotate(0.04)">−0.30</text>
<text class="l" transform="translate(708.9,354.5) rotate(0.04)" text-anchor="middle" fill="#222">Classification Thresholds</text>
<text class="l" transform="translate(595,276) rotate(-90.04)" text-anchor="middle" fill="#1616ff">Balanced Accuracy</text>
<text class="l" transform="translate(826.8,276.25) rotate(-90.04)" text-anchor="middle" fill="#ff1a1a">avg. odds diff.</text>
<text class="c" transform="translate(706.1,373.5) rotate(0.04)" text-anchor="middle">(h) KNN BA vs AOD After</text>
</g>
<g id="chart-d">
<line x1="169.5" x2="359.5" y1="405.00" y2="405.00" stroke="#d6d6d6" stroke-width="0.8"/>
<line x1="169.5" x2="359.5" y1="426.95" y2="426.95" stroke="#f4f4f4" stroke-width="0.5"/>
<line x1="169.5" x2="359.5" y1="448.90" y2="448.90" stroke="#d6d6d6" stroke-width="0.8"/>
<line x1="169.5" x2="359.5" y1="470.85" y2="470.85" stroke="#f4f4f4" stroke-width="0.5"/>
<line x1="169.5" x2="359.5" y1="492.80" y2="492.80" stroke="#d6d6d6" stroke-width="0.8"/>
<line x1="169.5" x2="359.5" y1="514.75" y2="514.75" stroke="#d6d6d6" stroke-width="0.8"/>
<polyline points="177.81,514.17 179.56,485.13 181.31,485.13 183.06,484.13 188.32,484.13 190.07,481.38 191.82,480.63 193.58,462.61 197.08,462.61 198.83,447.09 208.84,447.09 211.35,445.84 216.35,445.84 218.11,448.34 221.36,448.34 223.11,439.58 250.14,439.58 252.65,438.83 271.42,438.83 273.92,435.07 285.19,435.07 287.69,433.07 293.95,433.07 296.45,431.32 302.71,431.32 305.21,430.07 308.97,430.07 310.72,428.56 313.97,428.56 316.47,426.31 325.23,425.81 330.24,425.81 332.74,424.56 336.50,423.31 338.25,415.05 340.25,412.55 342.00,409.54 345.26,408.79 347.76,404.54 349.51,400.03 351.27,393.77" fill="none" stroke="#3d88c2" stroke-width="0.7" stroke-linejoin="round"/>
<polyline points="177.81,411.29 179.56,421.31 181.31,426.31 183.06,429.06 191.82,428.56 193.58,412.55 197.08,412.55 198.83,399.03 210.10,399.03 212.60,399.53 216.35,399.53 218.11,397.53 248.89,397.53 251.40,394.27 272.17,394.27 273.92,406.79 285.19,406.79 287.69,418.30 295.20,418.30 297.20,416.80 302.71,416.80 304.71,419.30 308.21,419.30 310.22,407.54 313.97,407.54 315.72,419.55 322.73,420.05 324.73,424.56 331.49,425.06 333.24,429.32 336.50,432.57 338.25,450.09 340.25,452.59 342.00,460.10 344.01,462.10 345.76,467.61 347.76,487.64 349.51,514.17 351.27,497.65" fill="none" stroke="#ff3232" stroke-width="0.7" stroke-linejoin="round"/>
<line x1="350.8" x2="350.8" y1="388.5" y2="520.5" stroke="#f0f0f0" stroke-width="1.8"/>
<line x1="350.8" x2="350.8" y1="388.5" y2="520.5" stroke="#8e8e8e" stroke-width="0.9" stroke-dasharray="0.8 0.6"/>
<line x1="169.5" x2="169.5" y1="388.5" y2="520.5" stroke="#8a8a8a" stroke-width="1"/>
<line x1="359.5" x2="359.5" y1="388.5" y2="520.5" stroke="#c0c0c0" stroke-width="1"/>
<line x1="169.0" x2="360.0" y1="520.5" y2="520.5" stroke="#858585" stroke-width="1"/>
<line x1="169.0" x2="360.0" y1="388.5" y2="388.5" stroke="#555" stroke-width="1"/>
<line x1="176.00" x2="176.00" y1="520.5" y2="521.8" stroke="#888" stroke-width="0.4"/>
<text class="t" style="font-size:4.55px" transform="translate(176.00,526.70) rotate(0.04)" text-anchor="middle">0.0</text>
<line x1="211.30" x2="211.30" y1="520.5" y2="521.8" stroke="#888" stroke-width="0.4"/>
<text class="t" style="font-size:4.55px" transform="translate(211.30,526.70) rotate(0.04)" text-anchor="middle">0.2</text>
<line x1="246.60" x2="246.60" y1="520.5" y2="521.8" stroke="#888" stroke-width="0.4"/>
<text class="t" style="font-size:4.55px" transform="translate(246.60,526.70) rotate(0.04)" text-anchor="middle">0.4</text>
<line x1="281.90" x2="281.90" y1="520.5" y2="521.8" stroke="#888" stroke-width="0.4"/>
<text class="t" style="font-size:4.55px" transform="translate(281.90,526.70) rotate(0.04)" text-anchor="middle">0.6</text>
<line x1="317.20" x2="317.20" y1="520.5" y2="521.8" stroke="#888" stroke-width="0.4"/>
<text class="t" style="font-size:4.55px" transform="translate(317.20,526.70) rotate(0.04)" text-anchor="middle">0.8</text>
<line x1="352.50" x2="352.50" y1="520.5" y2="521.8" stroke="#888" stroke-width="0.4"/>
<text class="t" style="font-size:4.55px" transform="translate(352.50,526.70) rotate(0.04)" text-anchor="middle">1.0</text>
<line x1="168.2" x2="169.5" y1="395.75" y2="395.75" stroke="#888" stroke-width="0.4"/>
<text class="t" style="font-size:4.55px" transform="translate(167.10,397.50) rotate(0.04)" text-anchor="end">0.74</text>
<line x1="168.2" x2="169.5" y1="412.35" y2="412.35" stroke="#888" stroke-width="0.4"/>
<text class="t" style="font-size:4.55px" transform="translate(167.10,414.10) rotate(0.04)" text-anchor="end">0.72</text>
<line x1="168.2" x2="169.5" y1="428.95" y2="428.95" stroke="#888" stroke-width="0.4"/>
<text class="t" style="font-size:4.55px" transform="translate(167.10,430.70) rotate(0.04)" text-anchor="end">0.70</text>
<line x1="168.2" x2="169.5" y1="445.55" y2="445.55" stroke="#888" stroke-width="0.4"/>
<text class="t" style="font-size:4.55px" transform="translate(167.10,447.30) rotate(0.04)" text-anchor="end">0.68</text>
<line x1="168.2" x2="169.5" y1="462.15" y2="462.15" stroke="#888" stroke-width="0.4"/>
<text class="t" style="font-size:4.55px" transform="translate(167.10,463.90) rotate(0.04)" text-anchor="end">0.66</text>
<line x1="168.2" x2="169.5" y1="478.75" y2="478.75" stroke="#888" stroke-width="0.4"/>
<text class="t" style="font-size:4.55px" transform="translate(167.10,480.50) rotate(0.04)" text-anchor="end">0.64</text>
<line x1="168.2" x2="169.5" y1="495.35" y2="495.35" stroke="#888" stroke-width="0.4"/>
<text class="t" style="font-size:4.55px" transform="translate(167.10,497.10) rotate(0.04)" text-anchor="end">0.62</text>
<line x1="168.2" x2="169.5" y1="511.95" y2="511.95" stroke="#888" stroke-width="0.4"/>
<text class="t" style="font-size:4.55px" transform="translate(167.10,513.70) rotate(0.04)" text-anchor="end">0.60</text>
<line x1="359.5" x2="360.8" y1="405.00" y2="405.00" stroke="#888" stroke-width="0.4"/>
<text class="t" style="font-size:4.55px" transform="translate(361.90,406.75) rotate(0.04)">−0.05</text>
<line x1="359.5" x2="360.8" y1="426.95" y2="426.95" stroke="#888" stroke-width="0.4"/>
<text class="t" style="font-size:4.55px" transform="translate(361.90,428.70) rotate(0.04)">−0.10</text>
<line x1="359.5" x2="360.8" y1="448.90" y2="448.90" stroke="#888" stroke-width="0.4"/>
<text class="t" style="font-size:4.55px" transform="translate(361.90,450.65) rotate(0.04)">−0.15</text>
<line x1="359.5" x2="360.8" y1="470.85" y2="470.85" stroke="#888" stroke-width="0.4"/>
<text class="t" style="font-size:4.55px" transform="translate(361.90,472.60) rotate(0.04)">−0.20</text>
<line x1="359.5" x2="360.8" y1="492.80" y2="492.80" stroke="#888" stroke-width="0.4"/>
<text class="t" style="font-size:4.55px" transform="translate(361.90,494.55) rotate(0.04)">−0.25</text>
<line x1="359.5" x2="360.8" y1="514.75" y2="514.75" stroke="#888" stroke-width="0.4"/>
<text class="t" style="font-size:4.55px" transform="translate(361.90,516.50) rotate(0.04)">−0.30</text>
<text class="l" transform="translate(264.3,533.25) rotate(0.04)" text-anchor="middle" fill="#222">Classification Thresholds</text>
<text class="l" transform="translate(153.0,454.75) rotate(-90.04)" text-anchor="middle" fill="#1616ff">Balanced Accuracy</text>
<text class="l" transform="translate(382.3,454.5) rotate(-90.04)" text-anchor="middle" fill="#ff1a1a">avg. odds diff.</text>
<text class="c" transform="translate(268.75,545.25) rotate(0.04)" text-anchor="middle">(d) GNB BA vs AOD Before</text>
</g>
<g id="chart-e">
<line x1="445.5" x2="636.5" y1="403.00" y2="403.00" stroke="#d6d6d6" stroke-width="0.8"/>
<line x1="445.5" x2="636.5" y1="431.88" y2="431.88" stroke="#f4f4f4" stroke-width="0.5"/>
<line x1="445.5" x2="636.5" y1="460.76" y2="460.76" stroke="#f4f4f4" stroke-width="0.5"/>
<line x1="445.5" x2="636.5" y1="489.64" y2="489.64" stroke="#f4f4f4" stroke-width="0.5"/>
<line x1="445.5" x2="636.5" y1="518.52" y2="518.52" stroke="#d6d6d6" stroke-width="0.8"/>
<polyline points="454.55,497.65 456.31,481.38 458.06,475.12 459.81,471.37 461.56,460.10 463.06,440.08 464.82,435.07 466.57,433.07 468.32,428.81 470.07,421.31 471.82,415.05 473.58,408.79 475.33,403.78 477.08,400.78 478.83,399.28 480.58,398.78 484.09,398.03 485.84,396.78 489.60,396.28 491.35,394.27 493.10,394.27 495.10,395.52 500.11,396.28 503.86,396.78 505.61,400.78 507.62,402.53 510.87,403.03 514.63,406.29 516.38,408.79 518.13,415.05 520.13,417.55 521.88,419.55 525.64,419.55 527.64,423.81 530.14,425.81 532.65,427.56 535.15,430.07 536.90,435.57 547.67,435.57 550.17,435.82 553.92,437.58 555.68,438.83 557.18,455.10 559.43,463.86 561.43,468.11 571.44,468.11 573.20,494.39 576.95,494.39 578.70,514.17 627.76,514.17" fill="none" stroke="#3d88c2" stroke-width="0.7" stroke-linejoin="round"/>
<polyline points="454.55,403.03 456.31,394.27 458.06,397.53 459.81,407.54 461.56,448.09 463.31,423.06 465.07,432.57 466.82,457.60 468.57,471.37 470.07,472.62 471.82,490.14 473.58,505.66 475.33,492.64 477.08,488.89 478.83,485.13 480.58,481.88 484.09,481.88 485.84,486.38 487.59,470.11 489.60,467.11 491.35,430.57 493.10,478.87 494.60,470.87 496.35,475.12 498.11,514.17 503.11,514.17 505.11,491.39 506.87,471.37 508.62,462.61 512.12,462.61 513.87,457.10 517.13,463.11 519.13,429.57 520.88,447.09 525.89,447.09 527.64,427.06 530.14,427.06 531.90,471.37 535.15,462.61 536.90,447.09 543.91,447.09 545.66,452.09 552.17,452.09 553.92,480.13 555.68,480.13 557.68,435.57 559.43,423.31 561.43,479.38 571.44,479.38 573.45,432.57 576.95,432.57 578.70,403.03 627.76,403.03" fill="none" stroke="#ff3232" stroke-width="0.7" stroke-linejoin="round"/>
<line x1="493.2" x2="493.2" y1="388.5" y2="520.5" stroke="#f0f0f0" stroke-width="1.8"/>
<line x1="493.2" x2="493.2" y1="388.5" y2="520.5" stroke="#8e8e8e" stroke-width="0.9" stroke-dasharray="0.8 0.6"/>
<line x1="446.15" x2="446.15" y1="388.5" y2="520.5" stroke="#a4a4a4" stroke-width="1.4"/>
<line x1="636.5" x2="636.5" y1="388.5" y2="520.5" stroke="#c8c8c8" stroke-width="1"/>
<line x1="445.0" x2="637.0" y1="520.5" y2="520.5" stroke="#808080" stroke-width="1"/>
<line x1="445.0" x2="637.0" y1="388.5" y2="388.5" stroke="#555" stroke-width="1"/>
<line x1="452.75" x2="452.75" y1="520.5" y2="521.8" stroke="#888" stroke-width="0.4"/>
<text class="t" style="font-size:4.55px" transform="translate(452.75,527.00) rotate(0.04)" text-anchor="middle">0.0</text>
<line x1="488.05" x2="488.05" y1="520.5" y2="521.8" stroke="#888" stroke-width="0.4"/>
<text class="t" style="font-size:4.55px" transform="translate(488.05,527.00) rotate(0.04)" text-anchor="middle">0.2</text>
<line x1="523.35" x2="523.35" y1="520.5" y2="521.8" stroke="#888" stroke-width="0.4"/>
<text class="t" style="font-size:4.55px" transform="translate(523.35,527.00) rotate(0.04)" text-anchor="middle">0.4</text>
<line x1="558.65" x2="558.65" y1="520.5" y2="521.8" stroke="#888" stroke-width="0.4"/>
<text class="t" style="font-size:4.55px" transform="translate(558.65,527.00) rotate(0.04)" text-anchor="middle">0.6</text>
<line x1="593.95" x2="593.95" y1="520.5" y2="521.8" stroke="#888" stroke-width="0.4"/>
<text class="t" style="font-size:4.55px" transform="translate(593.95,527.00) rotate(0.04)" text-anchor="middle">0.8</text>
<line x1="629.25" x2="629.25" y1="520.5" y2="521.8" stroke="#888" stroke-width="0.4"/>
<text class="t" style="font-size:4.55px" transform="translate(629.25,527.00) rotate(0.04)" text-anchor="middle">1.0</text>
<line x1="444.2" x2="445.5" y1="393.00" y2="393.00" stroke="#888" stroke-width="0.4"/>
<text class="t" style="font-size:4.55px" transform="translate(443.10,394.75) rotate(0.04)" text-anchor="end">0.75</text>
<line x1="444.2" x2="445.5" y1="417.25" y2="417.25" stroke="#888" stroke-width="0.4"/>
<text class="t" style="font-size:4.55px" transform="translate(443.10,419.00) rotate(0.04)" text-anchor="end">0.70</text>
<line x1="444.2" x2="445.5" y1="441.50" y2="441.50" stroke="#888" stroke-width="0.4"/>
<text class="t" style="font-size:4.55px" transform="translate(443.10,443.25) rotate(0.04)" text-anchor="end">0.65</text>
<line x1="444.2" x2="445.5" y1="465.75" y2="465.75" stroke="#888" stroke-width="0.4"/>
<text class="t" style="font-size:4.55px" transform="translate(443.10,467.50) rotate(0.04)" text-anchor="end">0.60</text>
<line x1="444.2" x2="445.5" y1="490.00" y2="490.00" stroke="#888" stroke-width="0.4"/>
<text class="t" style="font-size:4.55px" transform="translate(443.10,491.75) rotate(0.04)" text-anchor="end">0.55</text>
<line x1="444.2" x2="445.5" y1="514.25" y2="514.25" stroke="#888" stroke-width="0.4"/>
<text class="t" style="font-size:4.55px" transform="translate(443.10,516.00) rotate(0.04)" text-anchor="end">0.50</text>
<line x1="636.5" x2="637.8" y1="403.00" y2="403.00" stroke="#888" stroke-width="0.4"/>
<text class="t" style="font-size:4.55px" transform="translate(638.90,404.75) rotate(0.04)">0.00</text>
<line x1="636.5" x2="637.8" y1="431.88" y2="431.88" stroke="#888" stroke-width="0.4"/>
<text class="t" style="font-size:4.55px" transform="translate(638.90,433.63) rotate(0.04)">−0.05</text>
<line x1="636.5" x2="637.8" y1="460.76" y2="460.76" stroke="#888" stroke-width="0.4"/>
<text class="t" style="font-size:4.55px" transform="translate(638.90,462.51) rotate(0.04)">−0.10</text>
<line x1="636.5" x2="637.8" y1="489.64" y2="489.64" stroke="#888" stroke-width="0.4"/>
<text class="t" style="font-size:4.55px" transform="translate(638.90,491.39) rotate(0.04)">−0.15</text>
<line x1="636.5" x2="637.8" y1="518.52" y2="518.52" stroke="#888" stroke-width="0.4"/>
<text class="t" style="font-size:4.55px" transform="translate(638.90,520.27) rotate(0.04)">−0.20</text>
<text class="l" transform="translate(541,532.75) rotate(0.04)" text-anchor="middle" fill="#222">Classification Thresholds</text>
<text class="l" transform="translate(429.8,454.25) rotate(-90.04)" text-anchor="middle" fill="#1616ff">Balanced Accuracy</text>
<text class="l" transform="translate(659.3,454.5) rotate(-90.04)" text-anchor="middle" fill="#ff1a1a">avg. odds diff.</text>
<text class="c" transform="translate(549,545) rotate(0.04)" text-anchor="middle">(e) RF BA vs AOD Before</text>
</g>
<g id="chart-i">
<line x1="169.5" x2="359.5" y1="557.00" y2="557.00" stroke="#f4f4f4" stroke-width="0.5"/>
<line x1="169.5" x2="359.5" y1="659.00" y2="659.00" stroke="#f4f4f4" stroke-width="0.5"/>
<line x1="169.5" x2="359.5" y1="676.00" y2="676.00" stroke="#f4f4f4" stroke-width="0.5"/>
<polyline points="177.81,680.67 179.56,653.39 183.06,653.39 186.32,655.14 188.32,655.14 190.07,652.64 191.82,632.11 195.08,632.11 196.83,615.09 208.84,615.09 210.60,614.09 219.36,614.09 221.36,605.83 245.64,605.83 248.14,604.33 291.44,604.33 293.95,602.58 304.46,602.58 306.96,600.32 332.74,600.32 334.75,590.56 338.25,590.56 340.25,585.05 342.00,581.30 345.26,578.80 347.26,572.54 349.51,569.54 351.27,560.02" fill="none" stroke="#3d88c2" stroke-width="0.7" stroke-linejoin="round"/>
<line x1="169.5" x2="359.5" y1="574.5" y2="574.5" stroke="#d2d2d2" stroke-width="1"/>
<line x1="169.5" x2="359.5" y1="591.5" y2="591.5" stroke="#d2d2d2" stroke-width="1"/>
<line x1="169.5" x2="359.5" y1="608.5" y2="608.5" stroke="#d2d2d2" stroke-width="1"/>
<line x1="169.5" x2="359.5" y1="625.5" y2="625.5" stroke="#d2d2d2" stroke-width="1"/>
<line x1="169.5" x2="359.5" y1="642.5" y2="642.5" stroke="#d2d2d2" stroke-width="1"/>
<polyline points="177.81,597.57 179.56,627.10 181.31,627.10 183.06,625.85 184.82,625.85 186.57,612.59 188.32,612.59 190.07,619.60 191.82,644.63 195.08,644.63 196.83,617.59 208.84,617.59 210.60,630.11 219.36,630.11 221.36,595.07 245.64,595.07 247.64,585.30 291.44,585.30 293.95,587.06 304.71,587.06 306.71,560.02 332.74,560.02 334.75,598.82 338.25,599.57 340.25,652.64 342.00,651.38 344.01,648.88 345.76,646.38 347.76,680.17 349.51,680.17 351.27,660.14" fill="none" stroke="#ff3232" stroke-width="0.7" stroke-linejoin="round"/>
<line x1="350.8" x2="350.8" y1="554.5" y2="687.5" stroke="#f0f0f0" stroke-width="1.8"/>
<line x1="350.8" x2="350.8" y1="554.5" y2="687.5" stroke="#8e8e8e" stroke-width="0.9" stroke-dasharray="0.8 0.6"/>
<line x1="169.5" x2="169.5" y1="554.5" y2="687.5" stroke="#8a8a8a" stroke-width="1"/>
<line x1="359.5" x2="359.5" y1="554.5" y2="687.5" stroke="#c8c8c8" stroke-width="1"/>
<line x1="169.0" x2="360.0" y1="687.5" y2="687.5" stroke="#858585" stroke-width="1"/>
<line x1="169.0" x2="360.0" y1="554.5" y2="554.5" stroke="#606060" stroke-width="1"/>
<line x1="176.00" x2="176.00" y1="687.5" y2="688.8" stroke="#888" stroke-width="0.4"/>
<text class="t" style="font-size:4.55px" transform="translate(176.00,693.20) rotate(0.04)" text-anchor="middle">0.0</text>
<line x1="211.30" x2="211.30" y1="687.5" y2="688.8" stroke="#888" stroke-width="0.4"/>
<text class="t" style="font-size:4.55px" transform="translate(211.30,693.20) rotate(0.04)" text-anchor="middle">0.2</text>
<line x1="246.60" x2="246.60" y1="687.5" y2="688.8" stroke="#888" stroke-width="0.4"/>
<text class="t" style="font-size:4.55px" transform="translate(246.60,693.20) rotate(0.04)" text-anchor="middle">0.4</text>
<line x1="281.90" x2="281.90" y1="687.5" y2="688.8" stroke="#888" stroke-width="0.4"/>
<text class="t" style="font-size:4.55px" transform="translate(281.90,693.20) rotate(0.04)" text-anchor="middle">0.6</text>
<line x1="317.20" x2="317.20" y1="687.5" y2="688.8" stroke="#888" stroke-width="0.4"/>
<text class="t" style="font-size:4.55px" transform="translate(317.20,693.20) rotate(0.04)" text-anchor="middle">0.8</text>
<line x1="352.50" x2="352.50" y1="687.5" y2="688.8" stroke="#888" stroke-width="0.4"/>
<text class="t" style="font-size:4.55px" transform="translate(352.50,693.20) rotate(0.04)" text-anchor="middle">1.0</text>
<line x1="168.2" x2="169.5" y1="562.75" y2="562.75" stroke="#888" stroke-width="0.4"/>
<text class="t" style="font-size:4.55px" transform="translate(167.10,564.50) rotate(0.04)" text-anchor="end">0.74</text>
<line x1="168.2" x2="169.5" y1="578.50" y2="578.50" stroke="#888" stroke-width="0.4"/>
<text class="t" style="font-size:4.55px" transform="translate(167.10,580.25) rotate(0.04)" text-anchor="end">0.72</text>
<line x1="168.2" x2="169.5" y1="594.25" y2="594.25" stroke="#888" stroke-width="0.4"/>
<text class="t" style="font-size:4.55px" transform="translate(167.10,596.00) rotate(0.04)" text-anchor="end">0.70</text>
<line x1="168.2" x2="169.5" y1="610.00" y2="610.00" stroke="#888" stroke-width="0.4"/>
<text class="t" style="font-size:4.55px" transform="translate(167.10,611.75) rotate(0.04)" text-anchor="end">0.68</text>
<line x1="168.2" x2="169.5" y1="625.75" y2="625.75" stroke="#888" stroke-width="0.4"/>
<text class="t" style="font-size:4.55px" transform="translate(167.10,627.50) rotate(0.04)" text-anchor="end">0.66</text>
<line x1="168.2" x2="169.5" y1="641.50" y2="641.50" stroke="#888" stroke-width="0.4"/>
<text class="t" style="font-size:4.55px" transform="translate(167.10,643.25) rotate(0.04)" text-anchor="end">0.64</text>
<line x1="168.2" x2="169.5" y1="657.25" y2="657.25" stroke="#888" stroke-width="0.4"/>
<text class="t" style="font-size:4.55px" transform="translate(167.10,659.00) rotate(0.04)" text-anchor="end">0.62</text>
<line x1="168.2" x2="169.5" y1="673.00" y2="673.00" stroke="#888" stroke-width="0.4"/>
<text class="t" style="font-size:4.55px" transform="translate(167.10,674.75) rotate(0.04)" text-anchor="end">0.60</text>
<line x1="359.5" x2="360.8" y1="557.00" y2="557.00" stroke="#888" stroke-width="0.4"/>
<text class="t" style="font-size:4.55px" transform="translate(361.90,558.75) rotate(0.04)">0.005</text>
<line x1="359.5" x2="360.8" y1="574.00" y2="574.00" stroke="#888" stroke-width="0.4"/>
<text class="t" style="font-size:4.55px" transform="translate(361.90,575.75) rotate(0.04)">0.000</text>
<line x1="359.5" x2="360.8" y1="591.00" y2="591.00" stroke="#888" stroke-width="0.4"/>
<text class="t" style="font-size:4.55px" transform="translate(361.90,592.75) rotate(0.04)">−0.005</text>
<line x1="359.5" x2="360.8" y1="608.00" y2="608.00" stroke="#888" stroke-width="0.4"/>
<text class="t" style="font-size:4.55px" transform="translate(361.90,609.75) rotate(0.04)">−0.010</text>
<line x1="359.5" x2="360.8" y1="625.00" y2="625.00" stroke="#888" stroke-width="0.4"/>
<text class="t" style="font-size:4.55px" transform="translate(361.90,626.75) rotate(0.04)">−0.015</text>
<line x1="359.5" x2="360.8" y1="642.00" y2="642.00" stroke="#888" stroke-width="0.4"/>
<text class="t" style="font-size:4.55px" transform="translate(361.90,643.75) rotate(0.04)">−0.020</text>
<line x1="359.5" x2="360.8" y1="659.00" y2="659.00" stroke="#888" stroke-width="0.4"/>
<text class="t" style="font-size:4.55px" transform="translate(361.90,660.75) rotate(0.04)">−0.025</text>
<line x1="359.5" x2="360.8" y1="676.00" y2="676.00" stroke="#888" stroke-width="0.4"/>
<text class="t" style="font-size:4.55px" transform="translate(361.90,677.75) rotate(0.04)">−0.030</text>
<text class="l" transform="translate(264.3,699.25) rotate(0.04)" text-anchor="middle" fill="#222">Classification Thresholds</text>
<text class="l" transform="translate(153.0,620.5) rotate(-90.04)" text-anchor="middle" fill="#1616ff">Balanced Accuracy</text>
<text class="l" transform="translate(385.3,620.75) rotate(-90.04)" text-anchor="middle" fill="#ff1a1a">avg. odds diff.</text>
<text class="c" transform="translate(263,712.75) rotate(0.04)" text-anchor="middle">(i) GNB BA vs AOD After</text>
</g>
<g id="chart-j">
<line x1="445.5" x2="636.5" y1="584.45" y2="584.45" stroke="#f4f4f4" stroke-width="0.5"/>
<line x1="445.5" x2="636.5" y1="601.90" y2="601.90" stroke="#f4f4f4" stroke-width="0.5"/>
<line x1="445.5" x2="636.5" y1="654.25" y2="654.25" stroke="#f4f4f4" stroke-width="0.5"/>
<line x1="445.5" x2="636.5" y1="671.70" y2="671.70" stroke="#f4f4f4" stroke-width="0.5"/>
<polyline points="454.55,679.92 483.34,679.92 485.09,668.90 493.85,668.90 495.60,667.15 504.61,667.15 506.37,657.64 508.87,655.14 510.12,615.09 511.62,597.07 515.13,596.32 517.13,592.56 518.88,591.31 520.63,577.55 522.64,570.54 526.39,570.04 528.89,566.28 530.14,565.03 531.90,559.52 537.65,559.52 540.16,561.28 542.66,565.03 545.16,566.28 547.16,578.80 548.92,581.30 552.67,582.05 554.42,578.80 557.68,578.80 559.43,587.56 561.43,592.56 563.18,588.81 565.19,584.55 566.94,585.81 568.44,590.06 570.19,591.31 571.94,618.84 577.70,618.84 580.20,621.35 582.71,625.10 584.46,630.11 586.46,635.87 588.21,637.62 591.47,640.12 593.97,647.63 595.72,651.38 597.73,657.64 599.48,670.16 601.48,672.66 603.98,675.16 605.74,677.16 607.74,679.92 627.76,679.92" fill="none" stroke="#3d88c2" stroke-width="0.7" stroke-linejoin="round"/>
<line x1="445.5" x2="636.5" y1="567.5" y2="567.5" stroke="#cecece" stroke-width="1"/>
<line x1="445.5" x2="636.5" y1="619.5" y2="619.5" stroke="#cecece" stroke-width="1"/>
<line x1="445.5" x2="636.5" y1="637.5" y2="637.5" stroke="#cecece" stroke-width="1"/>
<polyline points="454.55,637.12 484.34,637.12 486.09,643.87 487.59,645.13 492.60,644.63 495.10,642.62 505.11,642.12 506.87,606.33 509.37,605.58 510.12,660.14 511.37,664.40 513.87,665.15 515.63,661.40 517.38,648.13 519.13,648.13 520.88,657.64 522.64,668.90 525.64,669.66 527.64,678.92 529.64,678.92 531.40,656.39 533.15,653.14 536.90,652.64 538.65,650.13 540.41,640.12 543.91,642.62 545.66,638.87 547.16,600.07 548.92,593.81 550.67,602.58 552.17,598.82 553.92,581.30 555.68,588.81 557.68,578.80 559.43,568.78 561.43,605.08 563.18,598.07 564.69,620.10 566.44,620.10 568.19,611.34 570.19,612.59 571.94,561.28 573.95,559.52 578.20,559.52 580.20,572.54 582.71,577.55 584.46,586.31 586.46,627.61 588.21,640.12 590.22,642.62 591.97,638.87 593.97,660.14 595.72,668.15 597.73,652.64 599.48,648.13 601.48,643.87 603.23,647.63 605.23,647.63 606.99,637.12 627.76,637.12" fill="none" stroke="#ff3232" stroke-width="0.7" stroke-linejoin="round"/>
<line x1="559.5" x2="559.5" y1="553.5" y2="685.5" stroke="#555" stroke-width="0.45" stroke-dasharray="3.3 1.5"/>
<line x1="446.15" x2="446.15" y1="553.5" y2="685.5" stroke="#a4a4a4" stroke-width="1.4"/>
<line x1="636.5" x2="636.5" y1="553.5" y2="685.5" stroke="#c8c8c8" stroke-width="1"/>
<line x1="445.0" x2="637.0" y1="685.5" y2="685.5" stroke="#808080" stroke-width="1"/>
<line x1="445.0" x2="637.0" y1="553.5" y2="553.5" stroke="#606060" stroke-width="1"/>
<line x1="452.75" x2="452.75" y1="685.5" y2="686.8" stroke="#888" stroke-width="0.4"/>
<text class="t" style="font-size:4.55px" transform="translate(452.75,692.00) rotate(0.04)" text-anchor="middle">0.0</text>
<line x1="488.01" x2="488.01" y1="685.5" y2="686.8" stroke="#888" stroke-width="0.4"/>
<text class="t" style="font-size:4.55px" transform="translate(488.01,692.00) rotate(0.04)" text-anchor="middle">0.2</text>
<line x1="523.27" x2="523.27" y1="685.5" y2="686.8" stroke="#888" stroke-width="0.4"/>
<text class="t" style="font-size:4.55px" transform="translate(523.27,692.00) rotate(0.04)" text-anchor="middle">0.4</text>
<line x1="558.53" x2="558.53" y1="685.5" y2="686.8" stroke="#888" stroke-width="0.4"/>
<text class="t" style="font-size:4.55px" transform="translate(558.53,692.00) rotate(0.04)" text-anchor="middle">0.6</text>
<line x1="593.79" x2="593.79" y1="685.5" y2="686.8" stroke="#888" stroke-width="0.4"/>
<text class="t" style="font-size:4.55px" transform="translate(593.79,692.00) rotate(0.04)" text-anchor="middle">0.8</text>
<line x1="629.05" x2="629.05" y1="685.5" y2="686.8" stroke="#888" stroke-width="0.4"/>
<text class="t" style="font-size:4.55px" transform="translate(629.05,692.00) rotate(0.04)" text-anchor="middle">1.0</text>
<line x1="444.2" x2="445.5" y1="561.75" y2="561.75" stroke="#888" stroke-width="0.4"/>
<text class="t" style="font-size:4.55px" transform="translate(443.10,563.50) rotate(0.04)" text-anchor="end">0.66</text>
<line x1="444.2" x2="445.5" y1="576.50" y2="576.50" stroke="#888" stroke-width="0.4"/>
<text class="t" style="font-size:4.55px" transform="translate(443.10,578.25) rotate(0.04)" text-anchor="end">0.64</text>
<line x1="444.2" x2="445.5" y1="591.25" y2="591.25" stroke="#888" stroke-width="0.4"/>
<text class="t" style="font-size:4.55px" transform="translate(443.10,593.00) rotate(0.04)" text-anchor="end">0.62</text>
<line x1="444.2" x2="445.5" y1="606.00" y2="606.00" stroke="#888" stroke-width="0.4"/>
<text class="t" style="font-size:4.55px" transform="translate(443.10,607.75) rotate(0.04)" text-anchor="end">0.60</text>
<line x1="444.2" x2="445.5" y1="620.75" y2="620.75" stroke="#888" stroke-width="0.4"/>
<text class="t" style="font-size:4.55px" transform="translate(443.10,622.50) rotate(0.04)" text-anchor="end">0.58</text>
<line x1="444.2" x2="445.5" y1="635.50" y2="635.50" stroke="#888" stroke-width="0.4"/>
<text class="t" style="font-size:4.55px" transform="translate(443.10,637.25) rotate(0.04)" text-anchor="end">0.56</text>
<line x1="444.2" x2="445.5" y1="650.25" y2="650.25" stroke="#888" stroke-width="0.4"/>
<text class="t" style="font-size:4.55px" transform="translate(443.10,652.00) rotate(0.04)" text-anchor="end">0.54</text>
<line x1="444.2" x2="445.5" y1="665.00" y2="665.00" stroke="#888" stroke-width="0.4"/>
<text class="t" style="font-size:4.55px" transform="translate(443.10,666.75) rotate(0.04)" text-anchor="end">0.52</text>
<line x1="444.2" x2="445.5" y1="679.75" y2="679.75" stroke="#888" stroke-width="0.4"/>
<text class="t" style="font-size:4.55px" transform="translate(443.10,681.50) rotate(0.04)" text-anchor="end">0.50</text>
<line x1="636.5" x2="637.8" y1="567.00" y2="567.00" stroke="#888" stroke-width="0.4"/>
<text class="t" style="font-size:4.55px" transform="translate(638.90,568.75) rotate(0.04)">0.20</text>
<line x1="636.5" x2="637.8" y1="584.45" y2="584.45" stroke="#888" stroke-width="0.4"/>
<text class="t" style="font-size:4.55px" transform="translate(638.90,586.20) rotate(0.04)">0.15</text>
<line x1="636.5" x2="637.8" y1="601.90" y2="601.90" stroke="#888" stroke-width="0.4"/>
<text class="t" style="font-size:4.55px" transform="translate(638.90,603.65) rotate(0.04)">0.10</text>
<line x1="636.5" x2="637.8" y1="619.35" y2="619.35" stroke="#888" stroke-width="0.4"/>
<text class="t" style="font-size:4.55px" transform="translate(638.90,621.10) rotate(0.04)">0.05</text>
<line x1="636.5" x2="637.8" y1="636.80" y2="636.80" stroke="#888" stroke-width="0.4"/>
<text class="t" style="font-size:4.55px" transform="translate(638.90,638.55) rotate(0.04)">0.00</text>
<line x1="636.5" x2="637.8" y1="654.25" y2="654.25" stroke="#888" stroke-width="0.4"/>
<text class="t" style="font-size:4.55px" transform="translate(638.90,656.00) rotate(0.04)">−0.05</text>
<line x1="636.5" x2="637.8" y1="671.70" y2="671.70" stroke="#888" stroke-width="0.4"/>
<text class="t" style="font-size:4.55px" transform="translate(638.90,673.45) rotate(0.04)">−0.10</text>
<text class="l" transform="translate(541,698.4) rotate(0.04)" text-anchor="middle" fill="#222">Classification Thresholds</text>
<text class="l" transform="translate(429.8,619.75) rotate(-90.04)" text-anchor="middle" fill="#1616ff">Balanced Accuracy</text>
<text class="l" transform="translate(659.3,619.75) rotate(-90.04)" text-anchor="middle" fill="#ff1a1a">avg. odds diff.</text>
<text class="c" transform="translate(550.25,712.75) rotate(0.04)" text-anchor="middle">(j) RF BA vs AOD After</text>
</g>
</svg></body></html>
